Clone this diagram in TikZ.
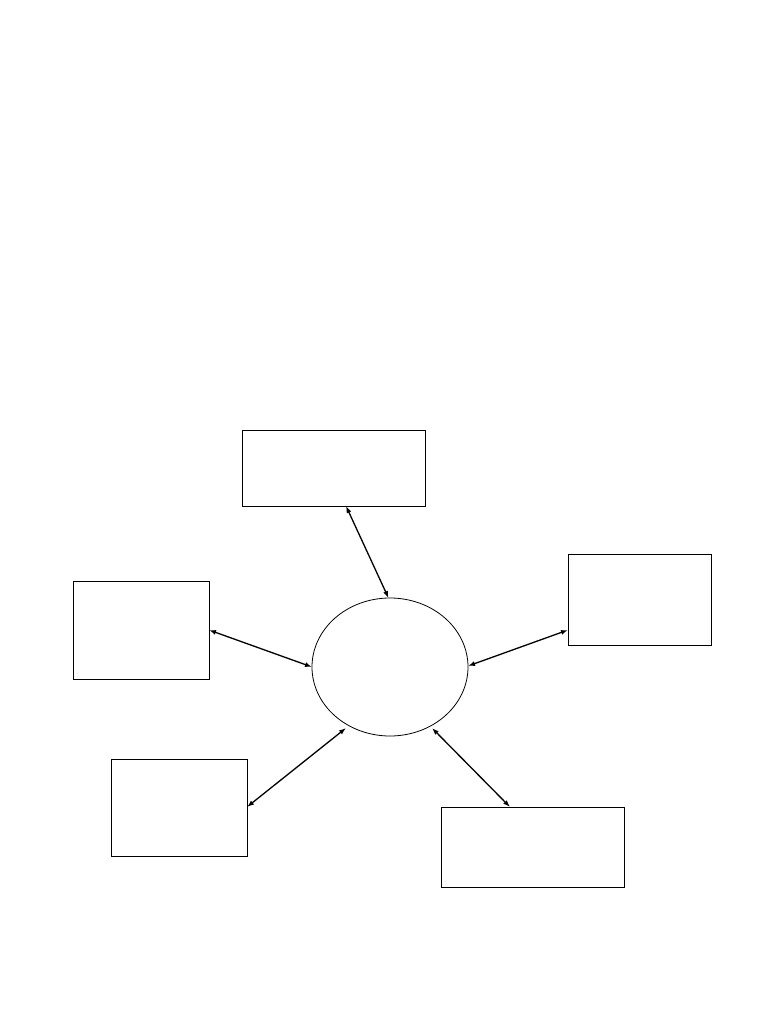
\documentclass[tikz,border=0pt]{standalone}
\usetikzlibrary{shapes.geometric,arrows.meta}
\begin{document}
\begin{tikzpicture}[x=1pt,y=-1pt,
  boxnode/.style={draw,line width=0.8pt,inner sep=0pt,anchor=north west},
  link/.style={line width=1.3pt,{Latex[length=7pt,width=5pt]}-{Latex[length=7pt,width=5pt]}}]
\useasboundingbox (0,0) rectangle (768,1024);
\node[boxnode,minimum width=183pt,minimum height=76pt] (top) at (242,430) {};
\node[boxnode,minimum width=143pt,minimum height=91pt] (right) at (568,554) {};
\node[boxnode,minimum width=136pt,minimum height=98pt] (left) at (73,581) {};
\node[boxnode,minimum width=136pt,minimum height=97pt] (bl) at (111,759) {};
\node[boxnode,minimum width=183pt,minimum height=80pt] (br) at (441,807) {};
\node[draw,ellipse,line width=0.8pt,minimum width=156pt,minimum height=138pt,inner sep=0pt] (c) at (390,667) {};
\coordinate (t1) at (346,506); \coordinate (t2) at (388.5,598);
\coordinate (l1) at (209,630); \coordinate (l2) at (312,667);
\coordinate (r1) at (568,630); \coordinate (r2) at (468,666);
\coordinate (b1) at (247,807); \coordinate (b2) at (346,728);
\coordinate (d1) at (510,807); \coordinate (d2) at (432,728);
\draw[link] (t1) -- (t2);
\draw[link] (l1) -- (l2);
\draw[link] (r1) -- (r2);
\draw[link] (b1) -- (b2);
\draw[link] (d1) -- (d2);
\end{tikzpicture}
\end{document}
